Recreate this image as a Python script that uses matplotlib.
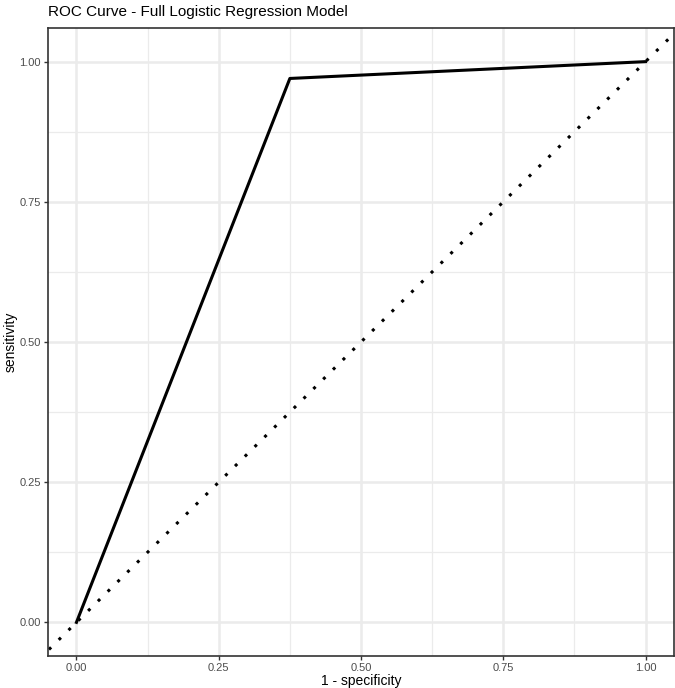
import matplotlib
matplotlib.use("Agg")
import matplotlib.pyplot as plt

fpr = [0.0, 0.375, 1.0]
tpr = [0.0, 0.97, 1.0]
ticks = [0.0, 0.25, 0.5, 0.75, 1.0]
tick_labels = ["0.00", "0.25", "0.50", "0.75", "1.00"]

plt.rcParams['font.family'] = ['Liberation Sans', 'DejaVu Sans']
fig = plt.figure(figsize=(6.75, 6.88), dpi=100)
L, R, T, B = 48, 674, 28, 656
ax = fig.add_axes([L/675, 1 - B/688, (R-L)/675, (B-T)/688])
ax.set_xlim(-0.05, 1.05)
ax.set_ylim(-0.06, 1.06)
ax.set_xticks(ticks)
ax.set_xticklabels(tick_labels)
ax.set_yticks(ticks)
ax.set_yticklabels(tick_labels)
minor = [0.125, 0.375, 0.625, 0.875]
ax.set_xticks(minor, minor=True)
ax.set_yticks(minor, minor=True)
ax.grid(which='major', color='#EBEBEB', lw=1.8)
ax.grid(which='minor', color='#EBEBEB', lw=0.9)
ax.tick_params(which='minor', length=0)
ax.tick_params(which='major', length=3, width=1, color='#333333', labelsize=8,
               labelcolor='#4D4D4D', pad=2)
ax.set_axisbelow(True)
for s in ax.spines.values():
    s.set_color('#333333'); s.set_linewidth(1.2)
ax.plot([-0.1, 1.1], [-0.1, 1.1], color='black', lw=2.2, linestyle=(0, (1, 3.5)))
ax.plot(fpr, tpr, color='black', lw=2.2)
ax.set_xlabel("1 - specificity", fontsize=10, labelpad=1)
ax.set_ylabel("sensitivity", fontsize=10, labelpad=1)
fig.text(L/675, 1 - 12/688, "ROC Curve - Full Logistic Regression Model", fontsize=11, va='center')
fig.savefig("out.png", dpi=100)
